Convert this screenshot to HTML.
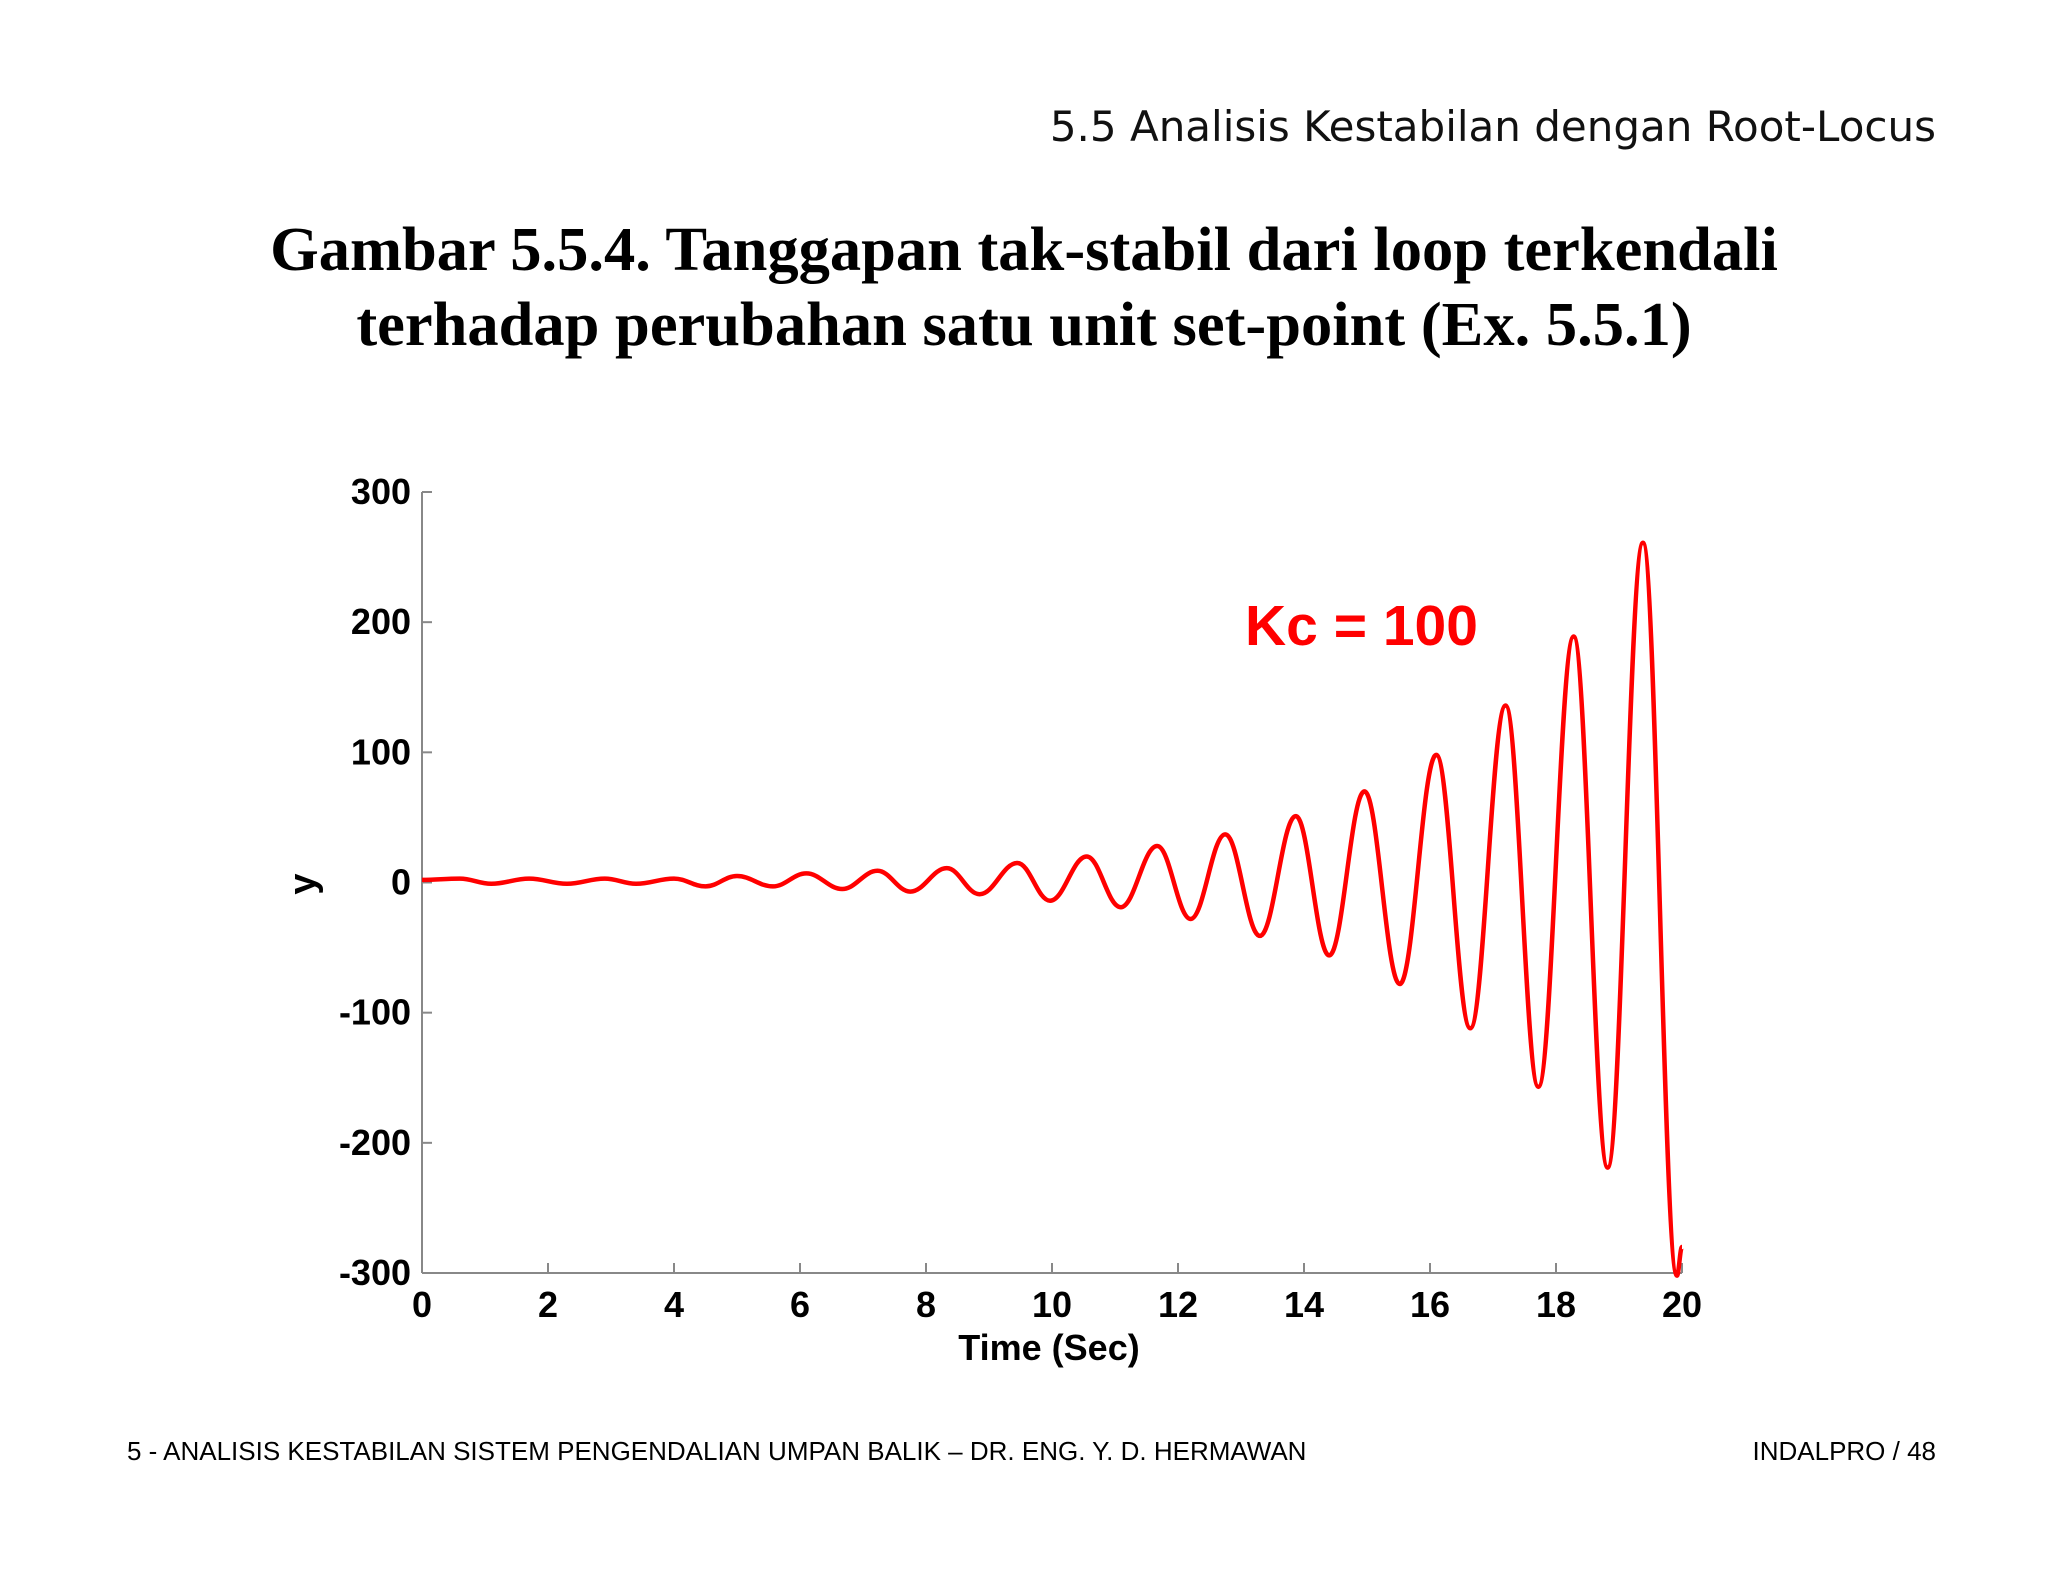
<!DOCTYPE html>
<html><head><meta charset="utf-8"><style>
html,body{margin:0;padding:0;background:#fff;}
svg{display:block;}
</style></head><body>
<svg id="chart" width="2048" height="1582" viewBox="0 0 2048 1582" xmlns="http://www.w3.org/2000/svg">
<text x="1936" y="141" text-anchor="end" font-family="DejaVu Sans, sans-serif" font-size="42" fill="#111">5.5 Analisis Kestabilan dengan Root-Locus</text>
<text x="1024" y="270" text-anchor="middle" font-family="Liberation Serif, serif" font-weight="bold" font-size="62.5" fill="#000">Gambar 5.5.4. Tanggapan tak-stabil dari loop terkendali</text>
<text x="1024" y="345" text-anchor="middle" font-family="Liberation Serif, serif" font-weight="bold" font-size="62.5" fill="#000">terhadap perubahan satu unit set-point (Ex. 5.5.1)</text>
<g id="axes"></g>
<path id="series" fill="none" stroke="#ff0000" stroke-width="4.5" stroke-linejoin="round"/>
<text x="1245" y="645" font-family="Liberation Sans, sans-serif" font-weight="bold" font-size="57" fill="#ff0000">Kc = 100</text>
<text x="1049" y="1360" text-anchor="middle" font-family="Liberation Sans, sans-serif" font-weight="bold" font-size="36" fill="#000">Time (Sec)</text>
<text x="0" y="0" transform="translate(315,884) rotate(-90)" text-anchor="middle" font-family="Liberation Sans, sans-serif" font-weight="bold" font-size="38" fill="#000">y</text>
<text x="127" y="1460" font-family="Liberation Sans, sans-serif" font-size="26" fill="#000">5 - ANALISIS KESTABILAN SISTEM PENGENDALIAN UMPAN BALIK – DR. ENG. Y. D. HERMAWAN</text>
<text x="1936" y="1460" text-anchor="end" font-family="Liberation Sans, sans-serif" font-size="26" fill="#000">INDALPRO / 48</text>
</svg>
<script>
const xTicks=[0,2,4,6,8,10,12,14,16,18,20];
const yTicks=[300,200,100,0,-100,-200,-300];
const times=[0,0.6,1.1,1.7,2.3,2.9,3.4,4.0,4.5,5.0,5.57,6.1,6.67,7.23,7.75,8.33,8.85,9.45,9.97,10.55,11.09,11.67,12.2,12.75,13.3,13.87,14.4,14.96,15.52,16.1,16.64,17.2,17.72,18.28,18.82,19.38,19.92,20.0];
const values=[2,3,-1,3,-1,3,-1,3,-3,5,-3,7,-5,9,-7,11,-9,15,-14,20,-19,28,-28,37,-41,51,-56,70,-78,98,-112,136,-157,189,-219,261,-302,-280];
const X0=422,X1=1682,Y0=1273,Y1=492;
const sx=t=>X0+(t-0)/(20-0)*(X1-X0);
const sy=v=>Y0-(v+300)/600*(Y0-Y1);
const NS='http://www.w3.org/2000/svg';
const ax=document.getElementById('axes');
function mk(tag,attrs){const e=document.createElementNS(NS,tag);for(const k in attrs)e.setAttribute(k,attrs[k]);return e;}
const yl=mk('line',{x1:X0,y1:Y1,x2:X0,y2:Y0,stroke:'#888','stroke-width':2});


ax.appendChild(yl);
const xl=mk('line',{x1:X0,y1:Y0,x2:X1,y2:Y0,stroke:'#888','stroke-width':2});


ax.appendChild(xl);
xTicks.forEach(t=>{
  const l=mk('line',{x1:sx(t),y1:Y0,x2:sx(t),y2:Y0-10,stroke:'#888','stroke-width':2});
  
  
  ax.appendChild(l);
  const tx=mk('text',{x:sx(t),y:1317,'text-anchor':'middle','font-family':'Liberation Sans, sans-serif','font-weight':'bold','font-size':36});
  tx.textContent=t;
  
  
  ax.appendChild(tx);
});
yTicks.forEach(v=>{
  const l=mk('line',{x1:X0,y1:sy(v),x2:X0+10,y2:sy(v),stroke:'#888','stroke-width':2});
  
  
  ax.appendChild(l);
  const tx=mk('text',{x:411,y:sy(v)+12,'text-anchor':'end','font-family':'Liberation Sans, sans-serif','font-weight':'bold','font-size':36});
  tx.textContent=v;
  
  
  ax.appendChild(tx);
});
let d='M'+sx(times[0])+','+sy(values[0]);
for(let i=1;i<times.length;i++){
  const xa=sx(times[i-1]),xb=sx(times[i]),ya=sy(values[i-1]),yb=sy(values[i]);
  const dx=(xb-xa)/2.6;
  d+=' C'+(xa+dx)+','+ya+' '+(xb-dx)+','+yb+' '+xb+','+yb;
}
document.getElementById('series').setAttribute('d',d);
</script>
</body></html>
